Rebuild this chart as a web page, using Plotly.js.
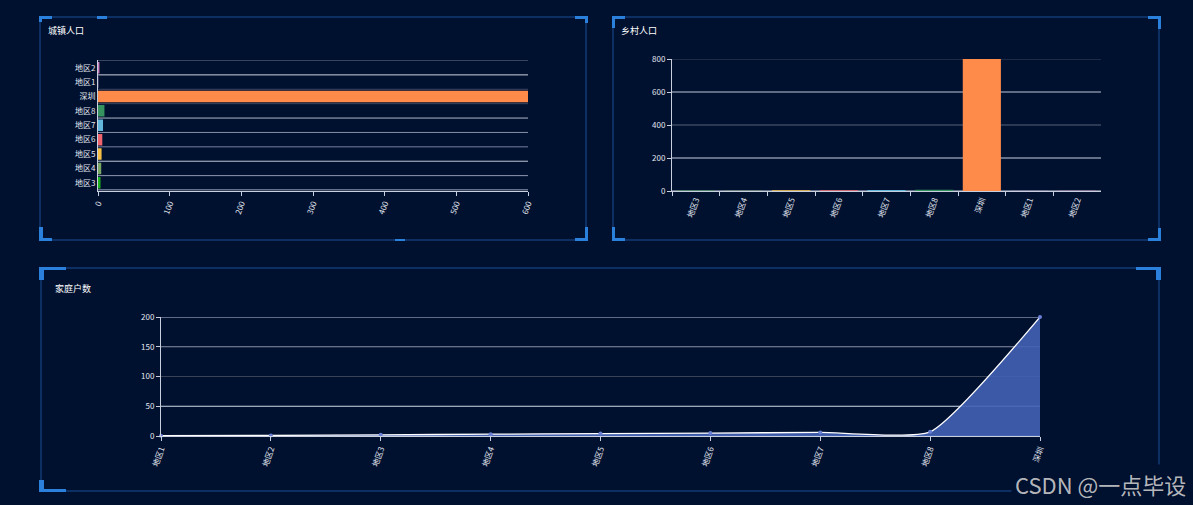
<!DOCTYPE html>
<html>
<head>
<meta charset="utf-8">
<script src="https://cdn.plot.ly/plotly-3.0.1.min.js"></script>
<style>
html,body{margin:0;padding:0;background:#00102f;overflow:hidden;}
#chart{width:1193px;height:505px;}
</style>
</head>
<body>
<div id="chart"></div>
<script>
// ---------- data ----------
const towns = ['地区3','地区4','地区5','地区6','地区7','地区8','深圳','地区1','地区2'];
const urbanPop = [3.5, 4.5, 5, 6, 7, 9, 600, 0.5, 2];
const ruralPop = [2, 2, 4, 5, 6, 7, 800, 1, 1];
const householdCats = ['地区1','地区2','地区3','地区4','地区5','地区6','地区7','地区8','深圳'];
const households = [0.5, 1, 2, 3, 4, 5, 6, 7, 200];
const urbanTicks = [0, 100, 200, 300, 400, 500, 600];
const ruralTicks = [0, 200, 400, 600, 800];
const householdTicks = [0, 50, 100, 150, 200];
const titles = ['城镇人口', '乡村人口', '家庭户数'];
const watermark = 'CSDN @一点毕设';

// ---------- styles ----------
const barColors = ['#1fb21f','#7aa862','#f5bf45','#f0646e','#62b6dc','#36935f','#ff8b4a','#9a80c0','#cc7cbc'];
const W = 1193, H = 505;
const px = x => x / W;
const py = y => 1 - y / H;
const FONT = 'Noto Sans CJK SC, Noto Sans, sans-serif';
const tickFont = {family: FONT, size: 8, color: '#e2e7f0'};
const axisLine = '#c8d0e0';
const hGridColors = ['#c8d0e0','#9098b0','#c0c8d8','#7880a0','#8890a8','#b0b8c8','#3a4560','#3a4560','#d0d4e0','#394560'];
const rGridColors = ['#c8d0e0','#c8d0e0','#59637c','#c0c8d8','#3c4660'];
const hhGridColors = ['#c8d0e0','#d0d8e8','#3a4258','#8890a8','#c0c8e0'];

const traces = [
  {type:'bar', orientation:'h', y: towns, x: urbanPop, xaxis:'x', yaxis:'y',
   marker:{color: barColors}, hoverinfo:'x+y', showlegend:false},
  {type:'bar', x: towns, y: ruralPop, xaxis:'x2', yaxis:'y2',
   marker:{color: barColors}, showlegend:false},
  {type:'scatter', mode:'lines+markers', x: householdCats, y: households, xaxis:'x3', yaxis:'y3',
   line:{color:'#ffffff', width:1.3, shape:'spline', smoothing:0.5},
   marker:{color:'#6a80d4', size:4},
   fill:'tozeroy', fillcolor:'rgba(66,98,182,0.9)', cliponaxis:false, showlegend:false}
];

const shapes = [];
// gridlines
[-0.5].concat(towns.map((_, i) => i + 0.5)).forEach((v, i) => {
  shapes.push({type:'line', xref:'x domain', yref:'y', x0:0, x1:1, y0:v, y1:v,
    line:{color:hGridColors[i], width:1}, layer:'below'});
});
ruralTicks.forEach((v, i) => {
  shapes.push({type:'line', xref:'x2 domain', yref:'y2', x0:0, x1:1, y0:v, y1:v,
    line:{color:rGridColors[i], width:1}, layer:'below'});
});
householdTicks.forEach((v, i) => {
  shapes.push({type:'line', xref:'x3 domain', yref:'y3', x0:0, x1:1, y0:v, y1:v,
    line:{color:hhGridColors[i], width:1}, layer:'below'});
});

// panel frames
const thin = '#1d4f95', thick = '#2b80dc';
[[40,17,586,240],[613,17,1159,240],[41,268,1159,491]].forEach(r => {
  shapes.push({type:'rect', xref:'paper', yref:'paper', x0:px(r[0]), x1:px(r[2]), y0:py(r[1]), y1:py(r[3]),
    line:{color:thin, width:1}, fillcolor:'rgba(0,0,0,0)', layer:'below'});
});
const deco = [
  [39,16,52,19],[39,16,42,22],[97,16,107,19],[575,16,588,19],[585,16,588,23],
  [39,227,43,241],[39,238,52,241],[395,239,405,241],[585,227,588,241],[575,238,588,241],
  [612,16,625,19],[612,16,615,28],[1148,16,1161,19],[1158,16,1161,29],
  [612,227,615,241],[612,238,625,241],[1158,228,1161,241],[1148,238,1161,241],
  [39,267,66,270],[39,267,44,280],[1136,267,1161,270],[1156,267,1161,280],
  [39,480,44,492],[39,489,66,492],[1156,480,1161,492],[1136,489,1161,492]
];
deco.forEach(r => {
  shapes.push({type:'rect', xref:'paper', yref:'paper', x0:px(r[0]), x1:px(r[2]), y0:py(r[1]), y1:py(r[3]),
    line:{width:0}, fillcolor:thick, layer:'below'});
});

const titlePos = [[46,30],[619,30],[53,288]];
const annotations = titles.map((t, i) => ({
  text:t, xref:'paper', yref:'paper', x:px(titlePos[i][0]), y:py(titlePos[i][1]),
  xanchor:'left', yanchor:'middle', showarrow:false, font:{family:FONT, size:9, color:'#ffffff'}
}));
annotations.push({text:watermark, xref:'paper', yref:'paper', x:px(1190), y:py(484),
  xanchor:'right', yanchor:'middle', showarrow:false, bgcolor:'#00102f', borderpad:3,
  font:{family:FONT, size:22, color:'rgba(205,205,205,0.9)'}});

const baseAxis = {tickfont:tickFont, showline:true, linecolor:axisLine, linewidth:1, zeroline:false,
  showgrid:false, fixedrange:true, ticks:'outside', ticklen:4, tickcolor:axisLine};

const layout = {
  width:W, height:H, margin:{l:0,r:0,t:0,b:0},
  paper_bgcolor:'#00102f', plot_bgcolor:'rgba(0,0,0,0)',
  bargap:0.2, showlegend:false,
  xaxis: Object.assign({}, baseAxis, {domain:[px(98), px(528)], range:[0,600], tickvals:urbanTicks,
    tickangle:-70, anchor:'y'}),
  yaxis: Object.assign({}, baseAxis, {domain:[py(190.5), py(60)], type:'category', ticks:'', anchor:'x',
    categoryorder:'array', categoryarray:towns}),
  xaxis2: Object.assign({}, baseAxis, {domain:[px(672), px(1101)], type:'category', tickson:'boundaries',
    tickangle:-70, anchor:'y2', categoryorder:'array', categoryarray:towns}),
  yaxis2: Object.assign({}, baseAxis, {domain:[py(191), py(59)], range:[0,800], tickvals:ruralTicks, anchor:'x2'}),
  xaxis3: Object.assign({}, baseAxis, {domain:[px(161), px(1040)], type:'category', range:[0,8],
    tickangle:-70, anchor:'y3', categoryorder:'array', categoryarray:householdCats}),
  yaxis3: Object.assign({}, baseAxis, {domain:[py(436), py(317)], range:[0,200], tickvals:householdTicks, anchor:'x3'}),
  shapes:shapes, annotations:annotations,
  font:{family:FONT}
};

Plotly.newPlot('chart', traces, layout, {displayModeBar:false, staticPlot:true});
</script>
</body>
</html>
